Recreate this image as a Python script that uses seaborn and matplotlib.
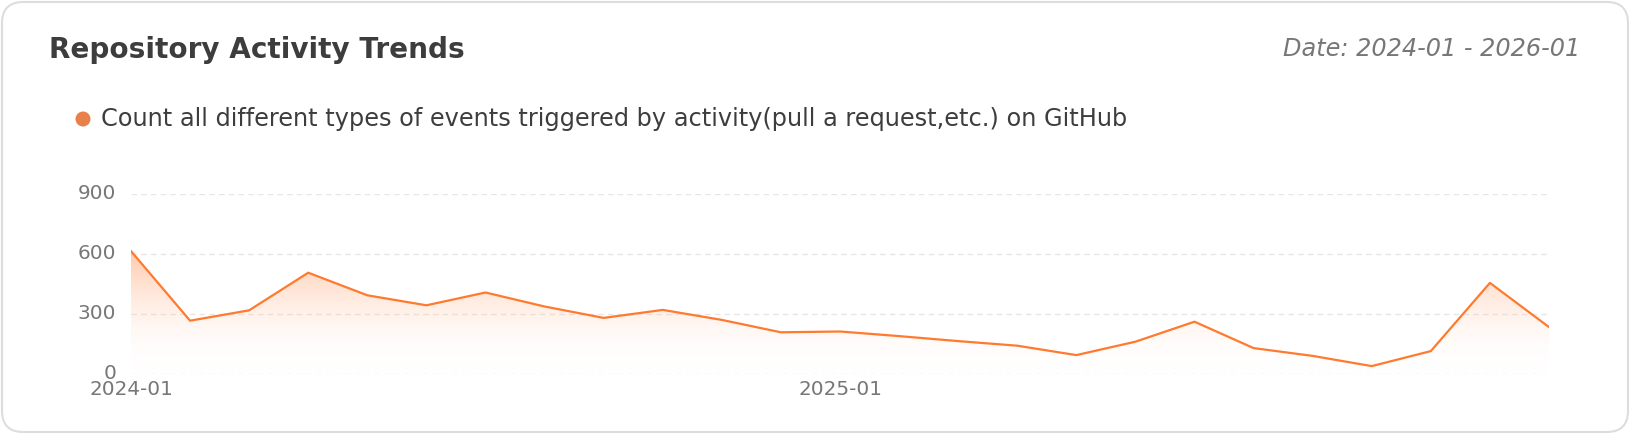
import numpy as np
import pandas as pd
import matplotlib
matplotlib.use("Agg")
import matplotlib.pyplot as plt
import matplotlib.transforms as mtransforms
import seaborn as sns
from matplotlib.patches import FancyBboxPatch, Ellipse
from matplotlib.colors import LinearSegmentedColormap

# ---- data ----
months = ["2024-01", "2024-02", "2024-03", "2024-04", "2024-05", "2024-06", "2024-07",
          "2024-08", "2024-09", "2024-10", "2024-11", "2024-12", "2025-01", "2025-02",
          "2025-03", "2025-04", "2025-05", "2025-06", "2025-07", "2025-08", "2025-09",
          "2025-10", "2025-11", "2025-12", "2026-01"]
events = [612, 264, 316, 504, 391, 341, 405, 335, 278, 318, 268, 206, 210, 187,
          162, 139, 92, 159, 259, 127, 88, 37, 112, 453, 232]
y_ticks = [0, 300, 600, 900]
x_tick_labels = ["2024-01", "2025-01"]

title = "Repository Activity Trends"
date_text = "Date: 2024-01 - 2026-01"
legend_text = "Count all different types of events triggered by activity(pull a request,etc.) on GitHub"

LINE = "#FF7A2E"
DOT = "#E8804A"
TEXT_DARK = "#3d3d3d"
TEXT_GRAY = "#777777"

sns.set_theme(style="white")
plt.rcParams["font.family"] = ["DejaVu Sans"]

W, H = 1630, 434
fig = plt.figure(figsize=(W / 100, H / 100), dpi=100)
fig.patch.set_facecolor("white")

# card
card = FancyBboxPatch((2 / W, 2 / H), (W - 4) / W, (H - 4) / H,
                      boxstyle="round,pad=0,rounding_size=0.013",
                      transform=fig.transFigure, facecolor="white",
                      edgecolor="#dddddd", linewidth=1.5, mutation_aspect=W / H,
                      zorder=-10)
fig.patches.append(card)

# axes
left, right = 131 / W, 1549 / W
bottom, top = (H - 373.5) / H, (H - 193.5) / H
ax = fig.add_axes([left, bottom, right - left, top - bottom])
ax.set_facecolor("none")
ax.set_zorder(2)

df = pd.DataFrame({"idx": np.arange(len(months)), "month": months, "events": events})

# gradient fill under line
fill = ax.fill_between(df["idx"], df["events"], 0, facecolor="none", edgecolor="none")
ymax = max(events)
grad = np.linspace(0, 1, 256).reshape(-1, 1)
cmap = LinearSegmentedColormap.from_list(
    "g", [(1, 1, 1, 0.0), (1.0, 0.48, 0.18, 0.42)])
im = ax.imshow(grad, extent=[0, len(months) - 1, 0, ymax], origin="lower",
               aspect="auto", cmap=cmap, vmin=0, vmax=1, zorder=1)
path = fill.get_paths()[0]
im.set_clip_path(path, transform=ax.transData)

sns.lineplot(data=df, x="idx", y="events", ax=ax, color=LINE, linewidth=1.6,
             zorder=3, legend=False)

ax.set_xlim(0, len(months) - 1)
ax.set_ylim(0, 900)
ax.set_yticks(y_ticks)
ax.set_yticklabels([str(v) for v in y_ticks])
ax.set_xticks([months.index(m) for m in x_tick_labels])
ax.set_xticklabels(x_tick_labels)
ax.set_xlabel("")
ax.set_ylabel("")
for s in ax.spines.values():
    s.set_visible(False)
ax.grid(axis="y", color="#e6e6e6", linestyle=(0, (4, 3)), linewidth=1)
ax.grid(axis="x", visible=False)
ax.tick_params(axis="y", length=0, pad=10.5, labelsize=14.4, labelcolor=TEXT_GRAY)
ax.tick_params(axis="x", length=0, pad=4.5, labelsize=14.4, labelcolor=TEXT_GRAY)
up = mtransforms.ScaledTranslation(0, 2 / 100, fig.dpi_scale_trans)
for lbl in ax.get_yticklabels():
    lbl.set_va("center_baseline")
    lbl.set_transform(lbl.get_transform() + up)
ax.set_axisbelow(True)

# title / header texts
fig.text(49 / W, 1 - 50 / H, title, fontsize=20.1, fontweight="bold",
         color=TEXT_DARK, ha="left", va="center")
fig.text(1580 / W, 1 - 49 / H, date_text, fontsize=17.3, style="italic",
         color=TEXT_GRAY, ha="right", va="center")

# legend
fig.patches.append(Ellipse((83 / W, 1 - 119 / H), 15 / W, 15 / H,
                           transform=fig.transFigure, facecolor=DOT,
                           edgecolor="none", zorder=3))
fig.text(101 / W, 1 - 119 / H, legend_text, fontsize=17.25, color=TEXT_DARK,
         ha="left", va="center")

fig.savefig("out.png", dpi=100, facecolor="white")
